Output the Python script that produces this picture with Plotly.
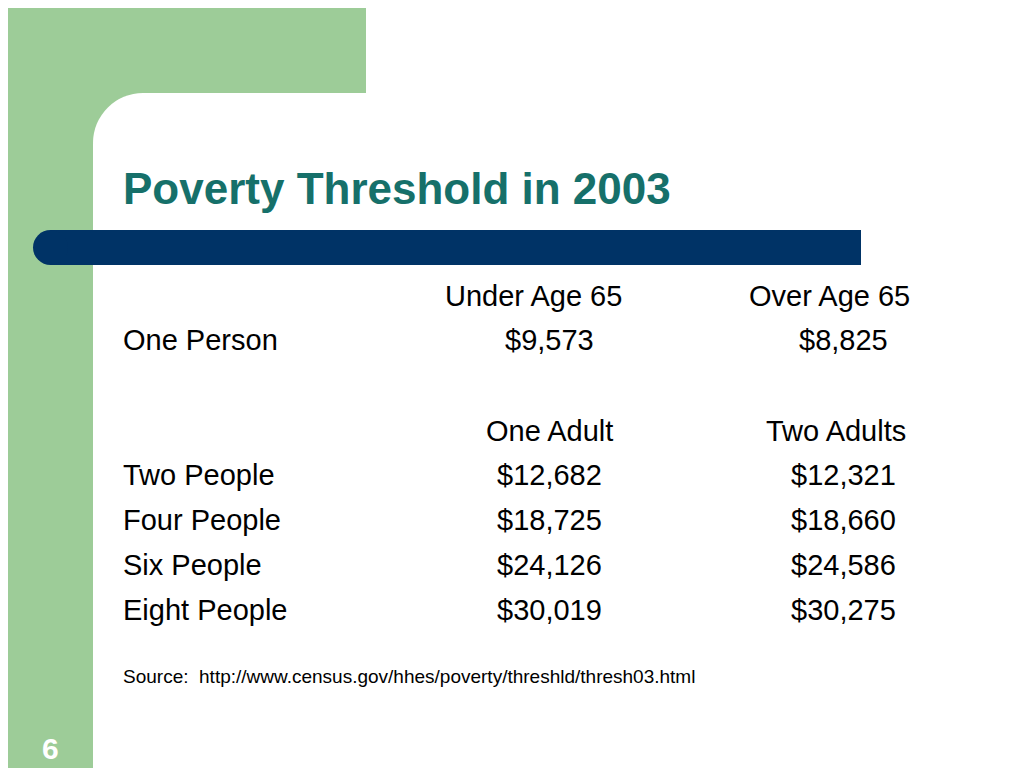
import plotly.graph_objects as go

title = "Poverty Threshold in 2003"
row_labels = ["One Person", "Two People", "Four People", "Six People", "Eight People"]
header1 = ["Under Age 65", "Over Age 65"]
header2 = ["One Adult", "Two Adults"]
col1 = ["$9,573", "$12,682", "$18,725", "$24,126", "$30,019"]
col2 = ["$8,825", "$12,321", "$18,660", "$24,586", "$30,275"]
source = "Source:  http://www.census.gov/hhes/poverty/threshld/thresh03.html"
page = "6"

GREEN = "#9dcc98"; NAVY = "#003366"; TEAL = "#16706a"
F = "Liberation Sans, Arial, sans-serif"

fig = go.Figure()
shapes = [
    dict(type="rect", x0=0, x1=85, y0=0, y1=768, fillcolor=GREEN, line_width=0, layer="below"),
    dict(type="rect", x0=0, x1=358, y0=0, y1=85, fillcolor=GREEN, line_width=0, layer="below"),
    dict(type="rect", x0=84, x1=136, y0=84, y1=136, fillcolor=GREEN, line_width=0, layer="below"),
    dict(type="circle", x0=85, x1=185, y0=85, y1=185, fillcolor="white", line_width=0, layer="below"),
    dict(type="rect", x0=43, x1=853, y0=222, y1=257, fillcolor=NAVY, line_width=0, layer="below"),
    dict(type="circle", x0=25, x1=60, y0=222, y1=257, fillcolor=NAVY, line_width=0, layer="below"),
]
ann = []
def t(x, y, s, size=29, color="black", anchor="left", bold=False):
    ann.append(dict(x=x, y=y, text=f"<b>{s}</b>" if bold else s, showarrow=False, xanchor=anchor,
                    yanchor="middle", font=dict(family=F, size=size, color=color)))

t(113, 180, title, size=44, color=TEAL, bold=True)
t(525, 288, header1[0], anchor="center"); t(821, 288, header1[1], anchor="center")
t(541, 423, header2[0], anchor="center"); t(828, 423, header2[1], anchor="center")
ys = [332, 467, 512, 557, 602]
for lab, a, b, y in zip(row_labels, col1, col2, ys):
    t(113, y, lab); t(541, y, a, anchor="center"); t(835, y, b, anchor="center")
t(113, 668, source, size=19)
t(42, 740, page, size=30, color="white", anchor="center", bold=True)

fig.update_layout(width=1024, height=768, margin=dict(l=0, r=0, t=0, b=0),
                  paper_bgcolor="white", plot_bgcolor="white", shapes=shapes, annotations=ann,
                  xaxis=dict(range=[0, 1024], visible=False, fixedrange=True),
                  yaxis=dict(range=[768, 0], visible=False, fixedrange=True), showlegend=False)
fig.write_html("out.html", config={"displayModeBar": False})
